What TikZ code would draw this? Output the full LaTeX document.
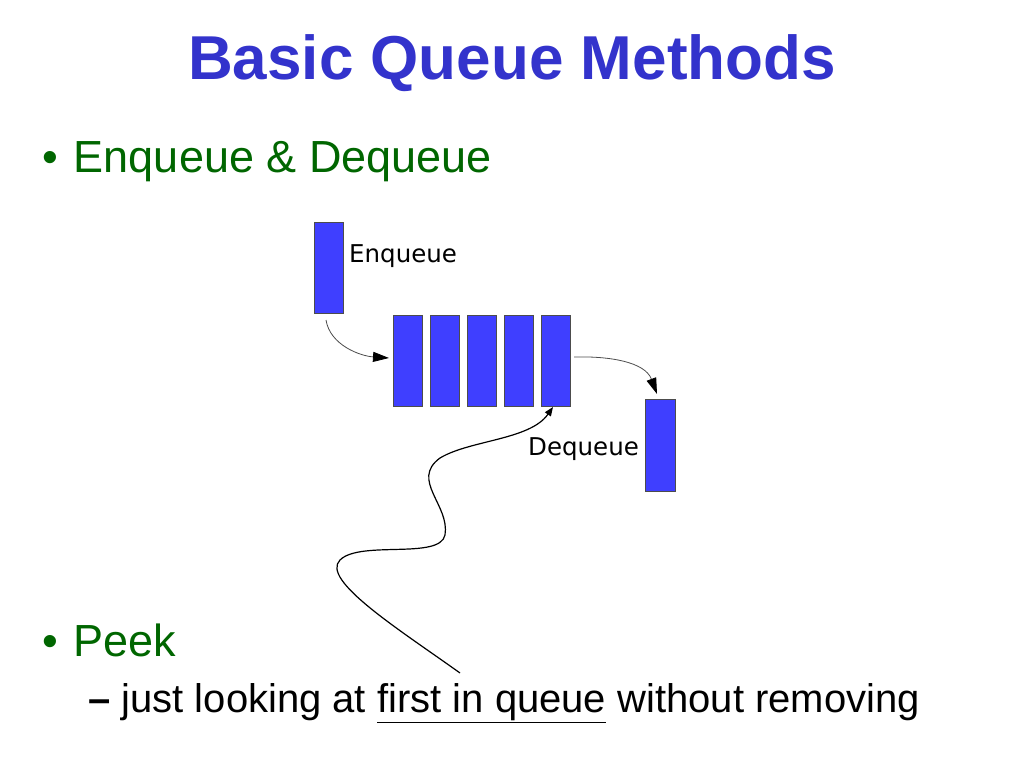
\documentclass[tikz,border=0pt]{standalone}
\usepackage{fontspec}
\setmainfont{Liberation Sans}
\newfontfamily\dv{DejaVu Sans}
\definecolor{ttl}{HTML}{3333CC}
\definecolor{grn}{HTML}{006600}
\definecolor{bar}{HTML}{3F3FFF}
\usetikzlibrary{arrows.meta}
\begin{document}
\begin{tikzpicture}[x=1pt,y=-1pt,
  barbox/.style={draw=black!70,fill=bar,line width=0.8pt},
  lbl/.style={font=\dv\fontsize{24.5}{28}\selectfont,anchor=west,inner sep=0},
  bul/.style={color=grn,font=\fontsize{45}{52}\selectfont,anchor=west,inner sep=0}]
\useasboundingbox (0,0) rectangle (1024,768);
\node[font=\bfseries\fontsize{62}{70}\selectfont,color=ttl] (title) at (512,63) {Basic Queue Methods};
\node[bul] (b1) at (42,162) {•\hspace{16pt}Enqueue \& Dequeue};
\node[bul] (b2) at (42,640) {•\hspace{16pt}Peek};
\node[font=\fontsize{40}{44}\selectfont,anchor=west,inner sep=0] (sub) at (88,703) {\textbf{–} just looking at \underline{first in queue} without removing};
\draw[barbox] (314,222) rectangle (343,313) coordinate (enq);
\foreach \x in {393,430,467,504,541} \draw[barbox] (\x,315) rectangle ++(29,91);
\draw[barbox] (645,399) rectangle (675,491);
\node[lbl] (el) at (349,256) {Enqueue};
\node[lbl] (dl) at (528,449) {Dequeue};
\coordinate (a1) at (326,320); \coordinate (a2) at (389,358);
\draw[black!70,line width=0.8pt,-{Triangle[length=16pt,width=10pt,color=black]}] (a1) .. controls (330,345) and (360,356) .. (a2);
\coordinate (d1) at (574,357); \coordinate (d2) at (657,394);
\draw[black!70,line width=0.8pt,-{Triangle[length=16pt,width=10pt,color=black]}] (d1) .. controls (610,356) and (645,362) .. (d2);
\coordinate (w1) at (460,673); \coordinate (w2) at (553,407);
\draw[line width=1.2pt,-{Triangle[length=9pt,width=7pt]}] (w1) .. controls (400,630) and (320,580) .. (340,560)
  .. controls (360,540) and (440,560) .. (445,535)
  .. controls (450,505) and (410,480) .. (440,458)
  .. controls (470,440) and (530,440) .. (w2);
\end{tikzpicture}
\end{document}
